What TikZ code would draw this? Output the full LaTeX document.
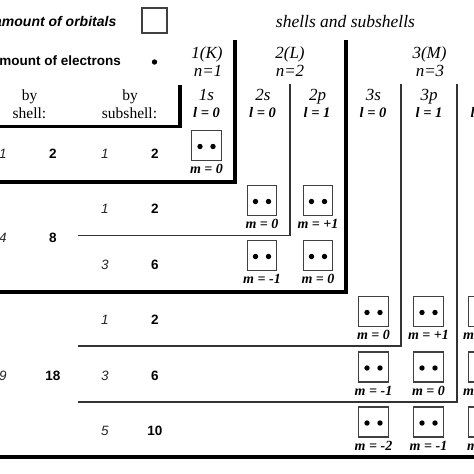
\documentclass[tikz,border=0pt]{standalone}
\usepackage{fontspec}
\setmainfont{Liberation Serif}
\newfontfamily\arialfont{Liberation Sans}
\usetikzlibrary{calc}
\def\orbital(#1)(#2,#3)#4{
	\node[orbbox] (#1) at (#2,#3) {};
	\fill ($(#1.center)+(-6.5,1)$) circle (2.7pt);
	\fill ($(#1.center)+(6.5,1)$) circle (2.7pt);
	\node[mlab] (#1-m) at ($(#1.south)+(0,12.5)$) {#4};
}

\begin{document}
\begin{tikzpicture}[x=1pt,y=-1pt,
	heavy/.style={line width=3.3pt, line join=miter},
	light/.style={line width=1.2pt, color=black!80},
	orbbox/.style={draw=black!75, line width=1.2pt, minimum width=29.5pt, minimum height=30pt, inner sep=0pt},
	mlab/.style={anchor=base, inner sep=0pt, font=\fontsize{14}{16}\selectfont\bfseries\itshape},
	shlab/.style={anchor=base, inner sep=0pt, font=\fontsize{17}{20}\selectfont\itshape},
	llab/.style={anchor=base, inner sep=0pt, font=\fontsize{14.5}{17}\selectfont\bfseries\itshape},
	hdr/.style={anchor=base, inner sep=0pt, font=\fontsize{15.5}{18}\selectfont},
	orbn/.style={anchor=base, inner sep=0pt, color=black!85, font=\fontsize{13.5}{16}\selectfont\arialfont\itshape},
	elec/.style={anchor=base, inner sep=0pt, font=\fontsize{13.5}{16}\selectfont\arialfont\bfseries}]
	%%%%% START %%%%%
	
	\useasboundingbox (0,0) rectangle (474,474);
	\fill[white] (0,0) rectangle (474,474);
	\clip (0,0) rectangle (474,474);
	
	% legend
	\node[anchor=base east, inner sep=0pt, font=\fontsize{14}{16}\selectfont\arialfont\bfseries\itshape] (legorb) at (116.5,26) {amount of orbitals};
	\draw[draw=black!75, line width=1.2pt] (142,8) rectangle (167,33);
	\node[anchor=base east, inner sep=0pt, font=\fontsize{13.5}{16}\selectfont\arialfont\bfseries] (legel) at (121,65) {amount of electrons};
	\fill (154.5,62) circle (2.7pt);
	\node[anchor=base, inner sep=0pt, font=\fontsize{17.5}{20}\selectfont\itshape] (title) at (345.5,27) {shells and subshells};
	
	% thick borders
	\draw[heavy] (-5,126.5) -- (180,126.5) -- (180,85);
	\draw[heavy] (-5,182) -- (235,182) -- (235,40);
	\draw[heavy] (-5,292) -- (346,292) -- (346,40);
	\draw[heavy] (-5,457) -- (480,457);
	
	% thin borders
	\draw[light] (78,235.5) -- (290,235.5) -- (290,84);
	\draw[light] (78,346) -- (401,346) -- (401,84);
	\draw[light] (78,402) -- (457,402) -- (457,84);
	
	% column heads on the left
	\node[hdr] (byA) at (29.5,100) {by};
	\node[hdr] (shellA) at (29.5,118) {shell:};
	\node[hdr] (byB) at (130,100) {by};
	\node[hdr] (shellB) at (129.5,118) {subshell:};
	
	% shell K
	\node[shlab] (K) at (207,58.5) {1(K)};
	\node[shlab] (nK) at (208,76) {n=1};
	\node[shlab] (s1) at (206.5,100) {1s};
	\node[llab] (l1s) at (206.5,117.5) {l = 0};
	\orbital(o1s)(206.5,145.5){m = 0}
	\node[orbn] (nK1) at (3,158) {1};
	\node[elec] (eK1) at (53,158) {2};
	\node[orbn] (nK2) at (105,158) {1};
	\node[elec] (eK2) at (155,158) {2};
	
	% shell L
	\node[shlab] (L) at (290,58.5) {2(L)};
	\node[shlab] (nL) at (290,76) {n=2};
	\node[shlab] (s2) at (263,100) {2s};
	\node[llab] (l2s) at (262.5,117.5) {l = 0};
	\node[shlab] (p2) at (317.5,100) {2p};
	\node[llab] (l2p) at (317,117.5) {l = 1};
	\orbital(o2s)(262,200.5){m = 0}
	\orbital(o2pa)(318,200.5){m = +1}
	\orbital(o2pb)(262,255.5){m = -1}
	\orbital(o2pc)(318,255.5){m = 0}
	\node[orbn] (nL1) at (3,242) {4};
	\node[elec] (eL1) at (53,242) {8};
	\node[orbn] (nL2) at (105,213) {1};
	\node[elec] (eL2) at (155,213) {2};
	\node[orbn] (nL3) at (105,269) {3};
	\node[elec] (eL3) at (155,269) {6};
	
	% shell M
	\node[shlab] (M) at (429.5,58.5) {3(M)};
	\node[shlab] (nM) at (430,76) {n=3};
	\node[shlab] (s3) at (373.5,100) {3s};
	\node[llab] (l3s) at (373,117.5) {l = 0};
	\node[shlab] (p3) at (429,100) {3p};
	\node[llab] (l3p) at (429,117.5) {l = 1};
	\node[shlab] (d3) at (484,100) {3d};
	\node[llab] (l3d) at (484,117.5) {l = 2};
	\orbital(o3s)(373.5,311.5){m = 0}
	\orbital(o3pa)(428.5,311.5){m = +1}
	\orbital(o3da)(483.5,311.5){m = +2}
	\orbital(o3pb)(373.5,367){m = -1}
	\orbital(o3pc)(428.5,367){m = 0}
	\orbital(o3db)(483.5,367){m = +1}
	\orbital(o3dc)(373.5,422){m = -2}
	\orbital(o3dd)(428.5,422){m = -1}
	\orbital(o3de)(483.5,422){m = 0}
	\node[orbn] (nM1) at (3,380) {9};
	\node[elec] (eM1) at (53,380) {18};
	\node[orbn] (nM2) at (105,324) {1};
	\node[elec] (eM2) at (155,324) {2};
	\node[orbn] (nM3) at (105,380) {3};
	\node[elec] (eM3) at (155,380) {6};
	\node[orbn] (nM4) at (105,435) {5};
	\node[elec] (eM4) at (155,435) {10};
	
	%%%%% END %%%%%
\end{tikzpicture}
\end{document}
